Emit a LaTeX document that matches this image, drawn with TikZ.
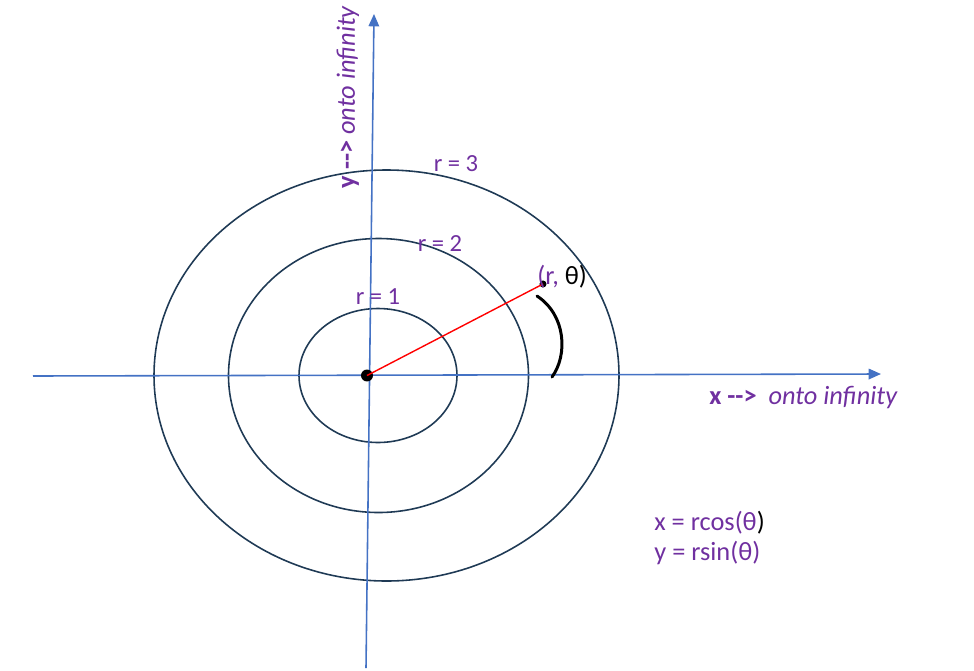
\documentclass[tikz,border=0pt]{standalone}
\usepackage{fontspec}
\setmainfont{Carlito}
\usepackage{xcolor}
\usetikzlibrary{arrows.meta,positioning}
\definecolor{axisblue}{HTML}{4472C4}
\definecolor{ringnavy}{HTML}{1F3A55}
\definecolor{labpurple}{HTML}{7030A0}

\begin{document}
\begin{tikzpicture}[x=0.02cm,y=-0.02cm,font=\fontsize{14}{16}\selectfont]
    \useasboundingbox (0,0) rectangle (974,670);
    \tikzstyle{axis}=[axisblue,line width=0.9pt,-{Triangle[length=7pt,width=6pt]}]
    \tikzstyle{ring}=[ringnavy,line width=0.9pt]
    \tikzstyle{dot}=[circle,fill=black,inner sep=0pt]
    \tikzstyle{lab}=[text=labpurple,inner sep=0pt]
    \tikzstyle{biglab}=[lab,font=\fontsize{15}{17}\selectfont]

    \coordinate (xstart) at (33,376);
    \coordinate (xend) at (881,374);
    \coordinate (ystart) at (366,668);
    \coordinate (yend) at (374,14);

    \foreach \cx/\rx/\ry in {378/79/67, 378.5/150/137, 386.5/232.5/205.5}
        \draw[ring] (\cx,375.5) ellipse [x radius=\rx, y radius=\ry];

    \draw[axis] (xstart) -- (xend);
    \draw[axis] (ystart) -- (yend);

    \node (origin) at (367,375.5) [dot,minimum size=6.8pt] {};
    \node (point) at (543,284) [dot,minimum size=4pt] {};
    \path (origin.center) edge [red,line width=0.8pt] (point.center);

    \coordinate (arcstart) at (537,296);
    \coordinate (arcend) at (552,377);
    \draw[line width=1.7pt,line cap=round] (arcstart) .. controls (566,315) and (568,355) .. (arcend);

    \node[biglab,anchor=west] (polar) at (537,277) {(r, {\color{black}θ)}};
    \node[lab] (r1) at (378,297) {r = 1};
    \node[lab] (r2) at (440,244) {r = 2};
    \node[lab] (r3) at (456,164) {r = 3};

    \node[biglab,anchor=west] (xlab) at (709,398)
        {\textbf{x -{}->}\ \ \textit{onto infinity}};
    \node[biglab,rotate=90] (ylab) at (348,97)
        {\textbf{y -{}->}\ \textit{onto infinity}};

    \node[biglab,anchor=base west] (xeq) at (654,530) {x = rcos(θ{\color{black})}};
    \node[biglab,anchor=base west] (yeq) at (654,560) {y = rsin(θ)};
\end{tikzpicture}
\end{document}
